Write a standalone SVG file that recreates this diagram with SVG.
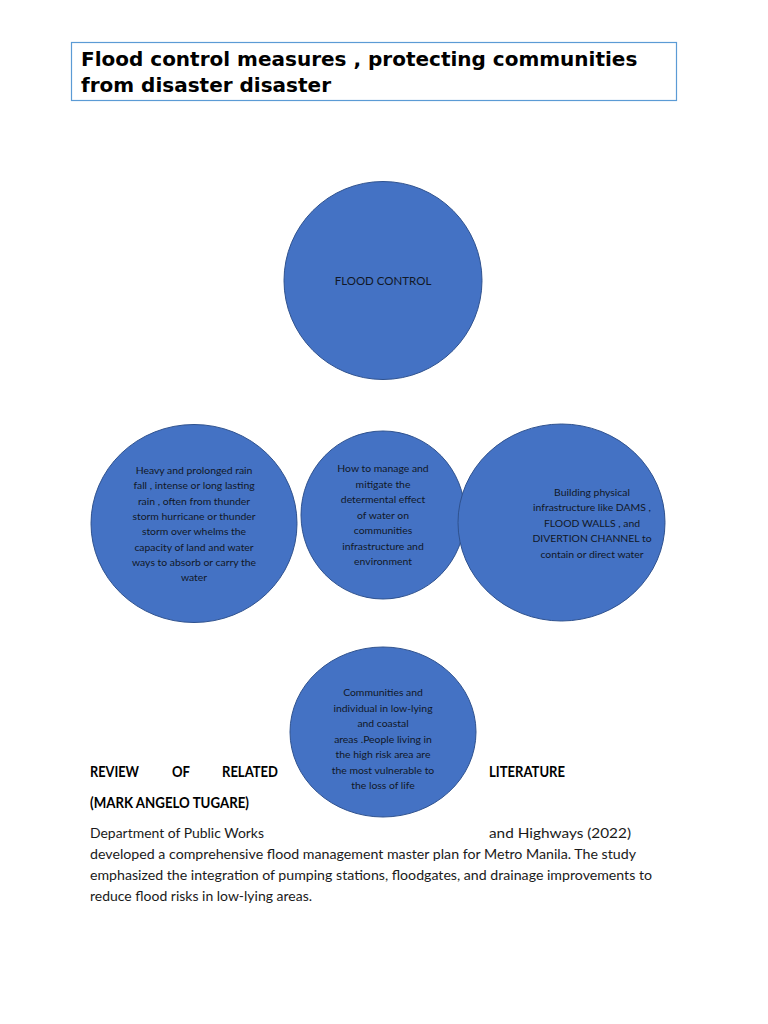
<svg xmlns="http://www.w3.org/2000/svg" width="768" height="1024" viewBox="0 0 768 1024">
<style>
.bg{fill:#ffffff}
.title{font-family:"DejaVu Sans",Verdana,sans-serif;font-weight:bold;font-size:20px;fill:#000}
.node{fill:#4472C4;stroke:#2F528F;stroke-width:1}
.nt{font-family:Lato,"Liberation Sans",sans-serif;font-size:10.4px;fill:#111827;text-anchor:middle}
.nt12{font-family:Lato,"Liberation Sans",sans-serif;font-size:11.5px;fill:#111827;text-anchor:middle}
.hd{font-family:Lato,"Liberation Sans",sans-serif;font-weight:bold;font-size:14.4px;fill:#000}
.body{font-family:Lato,"Liberation Sans",sans-serif;font-size:14.3px;fill:#1a1a1a}
</style>
<rect class="bg" x="0" y="0" width="768" height="1024"/>
<g id="title">
<rect x="71.5" y="42.5" width="605" height="58" fill="#fff" stroke="#5B9BD5" stroke-width="1.2"/>
<text class="title" x="81" y="66">Flood control measures , protecting communities</text>
<text class="title" x="81" y="92">from disaster disaster</text>
</g>
<g id="connectors"></g>
<g id="review-text">
<text class="hd" x="90" y="777" textLength="49" lengthAdjust="spacingAndGlyphs">REVIEW</text>
<text class="hd" x="172" y="777" textLength="18" lengthAdjust="spacingAndGlyphs">OF</text>
<text class="hd" x="222" y="777" textLength="56" lengthAdjust="spacingAndGlyphs">RELATED</text>
<text class="hd" x="489" y="777" textLength="76" lengthAdjust="spacingAndGlyphs">LITERATURE</text>
<text class="hd" x="90" y="807.5" textLength="159" lengthAdjust="spacingAndGlyphs">(MARK ANGELO TUGARE)</text>
<text class="body" x="90" y="838" textLength="174" lengthAdjust="spacingAndGlyphs">Department of Public Works</text>
<text class="body" x="489" y="838" textLength="142" lengthAdjust="spacingAndGlyphs">and Highways (2022)</text>
<text class="body" x="90" y="859" textLength="546" lengthAdjust="spacingAndGlyphs">developed a comprehensive flood management master plan for Metro Manila. The study</text>
<text class="body" x="90" y="880" textLength="562" lengthAdjust="spacingAndGlyphs">emphasized the integration of pumping stations, floodgates, and drainage improvements to</text>
<text class="body" x="90" y="901" textLength="222" lengthAdjust="spacingAndGlyphs">reduce flood risks in low-lying areas.</text>
</g>
<g id="flood-control">
<circle class="node" cx="383" cy="280.5" r="99"/>
<text class="nt12" x="383" y="285">FLOOD CONTROL</text>
</g>
<g id="causes">
<ellipse class="node" cx="194" cy="523.5" rx="103" ry="99"/>
<text class="nt" x="194" y="474">Heavy and prolonged rain</text>
<text class="nt" x="194" y="489.3">fall , intense or long lasting</text>
<text class="nt" x="194" y="504.6">rain , often from thunder</text>
<text class="nt" x="194" y="519.9">storm hurricane or thunder</text>
<text class="nt" x="194" y="535.2">storm over whelms the</text>
<text class="nt" x="194" y="550.5">capacity of land and water</text>
<text class="nt" x="194" y="565.8">ways to absorb or carry the</text>
<text class="nt" x="194" y="581.1">water</text>
</g>
<g id="definition">
<ellipse class="node" cx="383" cy="515" rx="82" ry="84"/>
<text class="nt" x="383" y="472">How to manage and</text>
<text class="nt" x="383" y="487.5">mitigate the</text>
<text class="nt" x="383" y="503">determental effect</text>
<text class="nt" x="383" y="518.5">of water on</text>
<text class="nt" x="383" y="534">communities</text>
<text class="nt" x="383" y="549.5">infrastructure and</text>
<text class="nt" x="383" y="565">environment</text>
</g>
<g id="measures">
<ellipse class="node" cx="561.5" cy="522.5" rx="103.5" ry="98.5"/>
<text class="nt" x="592" y="495.5">Building physical</text>
<text class="nt" x="592" y="511">infrastructure like DAMS ,</text>
<text class="nt" x="592" y="526.5">FLOOD WALLS , and</text>
<text class="nt" x="592" y="542">DIVERTION CHANNEL to</text>
<text class="nt" x="592" y="557.5">contain or direct water</text>
</g>
<g id="affected">
<ellipse class="node" cx="383" cy="732" rx="93" ry="85"/>
<text class="nt" x="383" y="696">Communities and</text>
<text class="nt" x="383" y="711.5">individual in low-lying</text>
<text class="nt" x="383" y="727">and coastal</text>
<text class="nt" x="383" y="742.5">areas .People living in</text>
<text class="nt" x="383" y="758">the high risk area are</text>
<text class="nt" x="383" y="773.5">the most vulnerable to</text>
<text class="nt" x="383" y="789">the loss of life</text>
</g>
</svg>
